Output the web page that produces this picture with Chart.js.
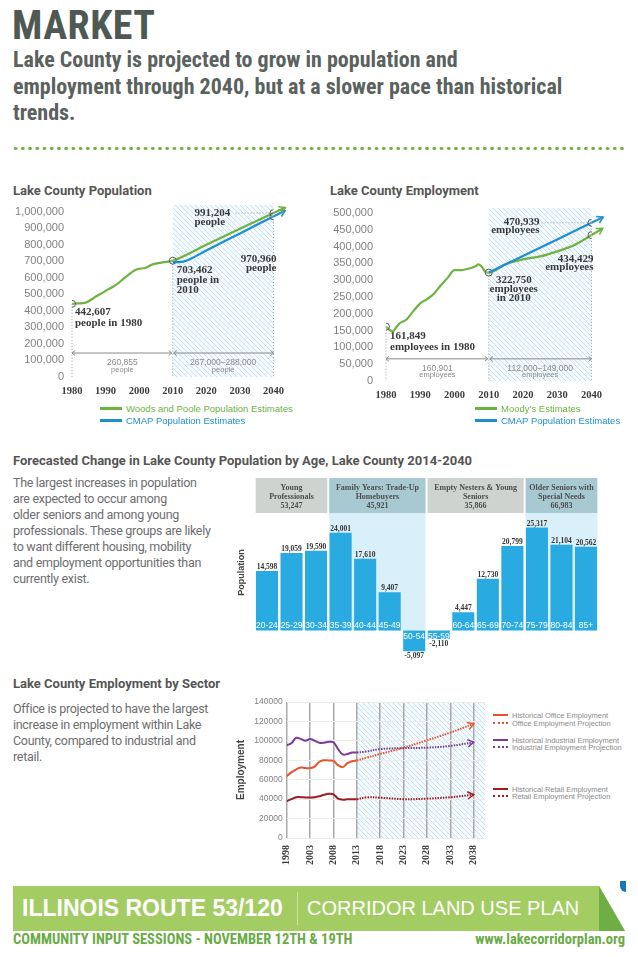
<!DOCTYPE html>
<html>
<head>
<meta charset="utf-8">
<title>Market</title>
<script src="https://cdn.jsdelivr.net/npm/chart.js@4.4.1/dist/chart.umd.min.js"></script>
<style>
  body { margin: 0; background: #fff; }
  #page { position: relative; width: 638px; height: 957px; overflow: hidden; font-family: Roboto, "Liberation Sans", sans-serif; color: #58595b; }
  .abs { position: absolute; white-space: nowrap; }
  .narrow { font-family: "Liberation Sans Narrow", "Roboto Condensed", Roboto, sans-serif; }
  #title { left: 12px; top: 4px; font-size: 40px; font-weight: bold; color: #4f5954; line-height: 44px; letter-spacing: 0.5px; }
  #subtitle { left: 13px; top: 47px; font-size: 22px; font-weight: bold; color: #5a625e; line-height: 26.5px; }
  #dots { left: 12px; top: 146px; width: 614px; height: 5px; background-image: radial-gradient(circle, #6db33f 1.5px, transparent 1.9px); background-size: 7.22px 5px; }
  .h2 { font-size: 13px; font-weight: bold; color: #555; line-height: 16px; }
  .para { font-size: 12.5px; color: #6d6e70; line-height: 16px; letter-spacing: -0.3px; }
  canvas { position: absolute; }
  .lg { font-family: "Liberation Sans", Arial, sans-serif; font-size: 9.5px; line-height: 12px; }
  .sw { display: inline-block; width: 22px; border-top: 3px solid; vertical-align: middle; margin-right: 4px; position: relative; top: -1px; }
  .slg { font-family: "Liberation Sans", Arial, sans-serif; font-size: 7.5px; line-height: 8px; color: #8a8a8a; }
  .ssw { display: inline-block; width: 15px; vertical-align: middle; margin-right: 4px; position: relative; top: -1px; }
  #band { left: 13px; top: 886px; width: 612px; height: 45px; background: #a3cd63; clip-path: polygon(0 0, 586px 0, 612px 45px, 0 45px); }
  #fold { left: 599px; top: 886px; width: 26px; height: 45px; background: #6fae45; clip-path: polygon(0 0, 26px 45px, 0 45px); }
</style>
</head>
<body>
<div id="page">
  <div id="title" class="abs narrow">MARKET</div>
  <div id="subtitle" class="abs narrow">Lake County is projected to grow in population and<br>employment through 2040, but at a slower pace than historical<br>trends.</div>
  <div id="dots" class="abs"></div>

  <div class="abs h2" style="left:13px;top:183px">Lake County Population</div>
  <div class="abs h2" style="left:330px;top:183px">Lake County Employment</div>
  <canvas id="popChart" width="282" height="210" style="left:10px;top:190px"></canvas>
  <canvas id="empChart" width="282" height="216" style="left:328px;top:188px"></canvas>
  <div class="abs lg" style="left:100px;top:403px;color:#6db33f"><span class="sw" style="border-color:#6db33f"></span>Woods and Poole Population Estimates</div>
  <div class="abs lg" style="left:100px;top:415px;color:#1d8fd1"><span class="sw" style="border-color:#1d8fd1"></span>CMAP Population Estimates</div>
  <div class="abs lg" style="left:475px;top:403px;color:#6db33f"><span class="sw" style="border-color:#6db33f"></span>Moody’s Estimates</div>
  <div class="abs lg" style="left:475px;top:415px;color:#1d8fd1"><span class="sw" style="border-color:#1d8fd1"></span>CMAP Population Estimates</div>

  <div class="abs h2" style="left:13px;top:453px">Forecasted Change in Lake County Population by Age, Lake County 2014-2040</div>
  <div class="abs para" style="left:13px;top:475px">The largest increases in population<br>are expected to occur among<br>older seniors and among young<br>professionals. These groups are likely<br>to want different housing, mobility<br>and employment opportunities than<br>currently exist.</div>
  <canvas id="ageChart" width="372" height="191" style="left:230px;top:476px"></canvas>

  <div class="abs h2" style="left:13px;top:676px">Lake County Employment by Sector</div>
  <div class="abs para" style="left:13px;top:701px">Office is projected to have the largest<br>increase in employment within Lake<br>County, compared to industrial and<br>retail.</div>
  <canvas id="sectorChart" width="261" height="188" style="left:232px;top:692px"></canvas>
  <div class="abs slg" style="left:493px;top:712px"><span class="ssw" style="border-top:2px solid #e8532c"></span>Historical Office Employment</div>
  <div class="abs slg" style="left:493px;top:720px"><span class="ssw" style="border-top:2px dotted #e8532c"></span>Office Employment Projection</div>
  <div class="abs slg" style="left:493px;top:737px"><span class="ssw" style="border-top:2px solid #7a3b97"></span>Historical Industrial Employment</div>
  <div class="abs slg" style="left:493px;top:744px"><span class="ssw" style="border-top:2px dotted #7a3b97"></span>Industrial Employment Projection</div>
  <div class="abs slg" style="left:493px;top:786px"><span class="ssw" style="border-top:2px solid #9e1b20"></span>Historical Retail Employment</div>
  <div class="abs slg" style="left:493px;top:793px"><span class="ssw" style="border-top:2px dotted #9e1b20"></span>Retail Employment Projection</div>

  <div id="band" class="abs"></div>
  <div id="fold" class="abs"></div>
  <div class="abs" style="left:620px;top:881px;width:6px;height:11px;background:#1b75bb;border-radius:0 0 0 6px"></div>
  <div class="abs" style="left:22px;top:895px;font-family:'Liberation Sans',Arial,sans-serif;font-size:23px;font-weight:bold;color:#fff">ILLINOIS ROUTE 53/120</div>
  <div class="abs" style="left:297px;top:892px;width:1px;height:33px;background:#c9e3a6"></div>
  <div class="abs" style="left:307px;top:897px;font-family:'Liberation Sans',Arial,sans-serif;font-size:20px;color:#fff">CORRIDOR LAND USE PLAN</div>
  <div class="abs narrow" style="left:13px;top:931px;font-size:14.5px;font-weight:bold;color:#6aab46">COMMUNITY INPUT SESSIONS - NOVEMBER 12TH &amp; 19TH</div>
  <div class="abs narrow" style="right:13px;top:931px;font-size:14.5px;font-weight:bold;color:#6aab46">www.lakecorridorplan.org</div>
</div>

<script>
// start: Data
const popHistYears = [1980, 1982, 1984, 1987, 1990, 1993, 1996, 1999, 2002, 2004, 2007, 2010];
const popHistValues = [442607, 445000, 449000, 485000, 521000, 555000, 605000, 649000, 661000, 681000, 693000, 703462];
const popProjYears = [2010, 2020, 2030, 2040];
const popWoodsProj = [703462, 800000, 896000, 991204];
const popCmapYears = [2010, 2012, 2014, 2020, 2030, 2040];
const popCmapProj = [694000, 695000, 703000, 765000, 868000, 970960];
const popTicks = [0, 100000, 200000, 300000, 400000, 500000, 600000, 700000, 800000, 900000, 1000000];

const empHistYears = [1980, 1981, 1982, 1983, 1984, 1986, 1988, 1990, 1992, 1994, 1996, 1998, 2000, 2002, 2004, 2006, 2007, 2008, 2009, 2010];
const empHistValues = [161849, 152000, 148000, 160000, 172000, 183000, 208000, 231000, 244000, 260000, 285000, 307000, 330000, 330000, 334000, 341000, 347000, 340000, 325000, 322750];
const empProjYears = [2010, 2015, 2020, 2025, 2030, 2035, 2040];
const empMoodysProj = [322750, 348000, 362000, 371000, 386000, 405000, 434429];
const empCmapYears = [2010, 2020, 2030, 2040];
const empCmapProj = [322750, 372000, 421500, 470939];
const empTicks = [0, 50000, 100000, 150000, 200000, 250000, 300000, 350000, 400000, 450000, 500000];

const ageCats = ["20-24", "25-29", "30-34", "35-39", "40-44", "45-49", "50-54", "55-59", "60-64", "65-69", "70-74", "75-79", "80-84", "85+"];
const ageChange = [14598, 19059, 19590, 24001, 17610, 9407, -5097, -2110, 4447, 12730, 20799, 25317, 21104, 20562];
const groupNames = [["Young", "Professionals"], ["Family Years: Trade-Up", "Homebuyers"], ["Empty Nesters & Young", "Seniors"], ["Older Seniors with", "Special Needs"]];
const groupTotals = [53247, 45921, 35866, 66983];
const groupSizes = [3, 4, 4, 3];

const sectorTickYears = [1998, 2003, 2008, 2013, 2018, 2023, 2028, 2033, 2038];
const sectorHistYears = [1998, 1999, 2000, 2001, 2002, 2003, 2004, 2005, 2006, 2007, 2008, 2009, 2010, 2011, 2012, 2013];
const officeHist = [63500, 67500, 70500, 72500, 72000, 72000, 73500, 78500, 80000, 79800, 79500, 75000, 73000, 77000, 79000, 79800];
const industrialHist = [95500, 97500, 103000, 102000, 100000, 102000, 100000, 98000, 98000, 99000, 98500, 91500, 86000, 86500, 88000, 88000];
const retailHist = [38000, 40000, 42000, 42000, 41800, 41800, 42000, 43000, 44500, 45500, 45000, 40500, 39500, 40000, 39800, 39800];
const sectorProjYears = [2013, 2015, 2018, 2023, 2028, 2033, 2038];
const officeProj = [79800, 82500, 86500, 93000, 100500, 108500, 117500];
const industrialProj = [88000, 89000, 91500, 92500, 93000, 94800, 98500];
const retailProj = [39800, 41800, 41500, 40000, 40500, 42000, 44500];
// end: Data

const GREEN = "#6db33f";
const BLUE = "#1d8fd1";
const SERIF = '"Liberation Serif", "DejaVu Serif", serif';
const SANS = '"Liberation Sans", Arial, sans-serif';

function points(xs, ys) {
  return xs.map(function (x, i) { return { x: x, y: ys[i] }; });
}

function hatchFill(ctx) {
  const tile = document.createElement("canvas");
  tile.width = 5;
  tile.height = 5;
  const t = tile.getContext("2d");
  t.fillStyle = "#f4fafd";
  t.fillRect(0, 0, 5, 5);
  t.strokeStyle = "#c6e2ef";
  t.lineWidth = 1;
  t.beginPath();
  t.moveTo(-1, -1); t.lineTo(6, 6);
  t.moveTo(-1, 4); t.lineTo(1, 6);
  t.moveTo(4, -1); t.lineTo(6, 1);
  t.stroke();
  return ctx.createPattern(tile, "repeat");
}

function textLines(ctx, lines, x, y, lh, font, color, align) {
  ctx.save();
  ctx.font = font;
  ctx.fillStyle = color;
  ctx.textAlign = align || "left";
  ctx.textBaseline = "alphabetic";
  lines.forEach(function (s, i) { ctx.fillText(s, x, y + i * lh); });
  ctx.restore();
}

function dimLine(ctx, x1, x2, y) {
  ctx.save();
  ctx.strokeStyle = "#8a8a8a";
  ctx.lineWidth = 1;
  ctx.beginPath();
  ctx.moveTo(x1, y); ctx.lineTo(x2, y);
  ctx.moveTo(x1 + 3, y - 2.5); ctx.lineTo(x1, y); ctx.lineTo(x1 + 3, y + 2.5);
  ctx.moveTo(x2 - 3, y - 2.5); ctx.lineTo(x2, y); ctx.lineTo(x2 - 3, y + 2.5);
  ctx.stroke();
  ctx.restore();
}

// start: Arrows
Chart.register({
  id: "arrows",
  afterDatasetsDraw: function (chart) {
    const ctx = chart.ctx;
    chart.data.datasets.forEach(function (ds, i) {
      if (ds.arrow === undefined) return;
      const pts = chart.getDatasetMeta(i).data;
      const a = pts[pts.length - 2], b = pts[pts.length - 1];
      const ang = Math.atan2(b.y - a.y, b.x - a.x);
      const ex = b.x + Math.cos(ang) * ds.arrow, ey = b.y + Math.sin(ang) * ds.arrow;
      ctx.save();
      ctx.strokeStyle = ds.borderColor;
      ctx.lineWidth = ds.borderWidth;
      ctx.setLineDash(ds.borderDash || []);
      ctx.beginPath(); ctx.moveTo(b.x, b.y); ctx.lineTo(ex, ey); ctx.stroke();
      ctx.setLineDash([]);
      ctx.lineWidth = 1.5;
      ctx.beginPath();
      ctx.moveTo(ex - Math.cos(ang - 0.55) * 7, ey - Math.sin(ang - 0.55) * 7);
      ctx.lineTo(ex, ey);
      ctx.lineTo(ex - Math.cos(ang + 0.55) * 7, ey - Math.sin(ang + 0.55) * 7);
      ctx.stroke();
      ctx.restore();
    });
  }
});
// end: Arrows

// start: Growth charts
function growthPlugin(o) {
  return {
    id: "growth",
    beforeDraw: function (chart) {
      const ctx = chart.ctx, a = chart.chartArea, x = chart.scales.x;
      const x0 = x.getPixelForValue(o.splitYear), x1 = x.getPixelForValue(o.endYear);
      ctx.save();
      ctx.fillStyle = hatchFill(ctx);
      ctx.fillRect(x0, a.top, x1 - x0, a.bottom - a.top);
      ctx.restore();
    },
    beforeDatasetsDraw: function (chart) {
      const ctx = chart.ctx, a = chart.chartArea, x = chart.scales.x, y = chart.scales.y;
      ctx.save();
      ctx.strokeStyle = "#a0a0a0";
      ctx.lineWidth = 1;
      ctx.setLineDash([1, 2]);
      o.marks.forEach(function (m) {
        const px = x.getPixelForValue(m[0]);
        ctx.beginPath(); ctx.moveTo(px, y.getPixelForValue(m[1])); ctx.lineTo(px, a.bottom); ctx.stroke();
      });
      const lx = x.getPixelForValue(o.leader[0]), ly = y.getPixelForValue(o.leader[1]);
      ctx.beginPath(); ctx.moveTo(lx + o.leader[2], ly); ctx.lineTo(lx - 4, ly); ctx.stroke();
      ctx.restore();
      const dy = y.getPixelForValue(o.dimValue);
      const xs = o.dimYears.map(function (v) { return x.getPixelForValue(v); });
      dimLine(ctx, xs[0], xs[1] - 1, dy);
      dimLine(ctx, xs[1] + 1, xs[2], dy);
      o.dimTexts.forEach(function (t, i) {
        const cx = (xs[i] + xs[i + 1]) / 2;
        textLines(ctx, [t[0]], cx, dy + 12, 0, "8.5px " + SANS, "#8a8a8a", "center");
        textLines(ctx, [t[1]], cx, dy + 18.5, 0, "7.5px " + SANS, "#8a8a8a", "center");
      });
    },
    afterDatasetsDraw: function (chart) {
      const ctx = chart.ctx, x = chart.scales.x, y = chart.scales.y;
      o.notes.forEach(function (n) {
        textLines(ctx, n.lines, x.getPixelForValue(n.year) + n.dx, y.getPixelForValue(n.value) + n.dy,
          n.lh, "bold 11px " + SERIF, "#3a3a3a", n.align);
      });
    }
  };
}

function growthOptions(yMax, yTicks, yWidth, yPad, padTop) {
  return {
    responsive: false,
    animation: false,
    events: [],
    layout: { padding: { top: padTop, right: 18, left: 0, bottom: 0 } },
    plugins: { legend: { display: false }, tooltip: { enabled: false } },
    elements: { line: { cubicInterpolationMode: "monotone" } },
    scales: {
      x: {
        type: "linear", min: 1980, max: 2040,
        grid: { display: false, drawTicks: false }, border: { display: false },
        ticks: { stepSize: 10, padding: 8, color: "#3d3d3d", font: { family: SERIF, weight: "bold", size: 10.5 }, callback: function (v) { return String(v); } },
        afterFit: function (s) { s.height = 23; }
      },
      y: {
        min: 0, max: yMax,
        grid: { display: false, drawTicks: false }, border: { display: false },
        ticks: { padding: yPad, color: "#808285", font: { family: SANS, size: 11 }, callback: function (v) { return v.toLocaleString("en-US"); } },
        afterBuildTicks: function (s) { s.ticks = yTicks.map(function (v) { return { value: v }; }); },
        afterFit: function (s) { s.width = yWidth; }
      }
    }
  };
}

function lineSet(label, data, color, marks) {
  return {
    label: label, data: data, borderColor: color, borderWidth: 2.2, arrow: 13,
    pointRadius: data.map(function (p) { return marks.indexOf(p.x) >= 0 ? 3.5 : 0; }),
    pointBorderColor: "#5a5a5a", pointBorderWidth: 1, pointBackgroundColor: "rgba(255,255,255,0.15)"
  };
}

const woodsPoints = points(popHistYears, popHistValues).concat(points(popProjYears, popWoodsProj).slice(1));
const popCmapPoints = points(popCmapYears, popCmapProj);
new Chart(document.getElementById("popChart"), {
  type: "line",
  data: {
    datasets: [
      lineSet("CMAP Population Estimates", popCmapPoints, BLUE, [2040]),
      lineSet("Woods and Poole Population Estimates", woodsPoints, GREEN, [1980, 2010, 2040])
    ]
  },
  options: growthOptions(1040000, popTicks, 62, 8, 15),
  plugins: [growthPlugin({
    splitYear: 2010, endYear: 2040,
    marks: [[popHistYears[0], popHistValues[0]], [2010, popWoodsProj[0]], [2040, popWoodsProj[3]]],
    leader: [2040, popWoodsProj[3], -38],
    dimValue: 145000, dimYears: [1980, 2010, 2040],
    dimTexts: [["260,855", "people"], ["267,000–288,000", "people"]],
    notes: [
      { year: 1980, value: popHistValues[0], dx: 3, dy: 11, lh: 11, lines: ["442,607", "people in 1980"] },
      { year: 2010, value: popWoodsProj[0], dx: 4, dy: 12, lh: 10, lines: ["703,462", "people in", "2010"] },
      { year: 2040, value: popWoodsProj[3], dx: -79, dy: 3, lh: 9, lines: ["991,204", "people"] },
      { year: 2040, value: popCmapProj[5], dx: 3, dy: 46, lh: 8.5, lines: ["970,960", "people"], align: "right" }
    ]
  })]
});

const moodysPoints = points(empHistYears, empHistValues).concat(points(empProjYears, empMoodysProj).slice(1));
const empCmapPoints = points(empCmapYears, empCmapProj);
new Chart(document.getElementById("empChart"), {
  type: "line",
  data: {
    datasets: [
      lineSet("CMAP Population Estimates", empCmapPoints, BLUE, [2040]),
      lineSet("Moody’s Estimates", moodysPoints, GREEN, [1980, 2010, 2040])
    ]
  },
  options: growthOptions(515000, empTicks, 58, 13, 20),
  plugins: [growthPlugin({
    splitYear: 2010, endYear: 2040,
    marks: [[empHistYears[0], empHistValues[0]], [2010, empMoodysProj[0]], [2040, empCmapProj[3]]],
    leader: [2040, empCmapProj[3], -50],
    dimValue: 66000, dimYears: [1980, 2010, 2040],
    dimTexts: [["160,901", "employees"], ["112,000–149,000", "employees"]],
    notes: [
      { year: 1980, value: empHistValues[0], dx: 4, dy: 12, lh: 11, lines: ["161,849", "employees in 1980"] },
      { year: 2010, value: empMoodysProj[0], dx: 25, dy: 10, lh: 9, lines: ["322,750", "employees", "in 2010"], align: "center" },
      { year: 2040, value: empCmapProj[3], dx: -52, dy: 2, lh: 8.5, lines: ["470,939", "employees"], align: "right" },
      { year: 2040, value: empMoodysProj[6], dx: 2, dy: 27, lh: 8, lines: ["434,429", "employees"], align: "right" }
    ]
  })]
});
// end: Growth charts

// start: Age chart
new Chart(document.getElementById("ageChart"), {
  type: "bar",
  data: {
    labels: ageCats,
    datasets: [{ label: "Population", data: ageChange, backgroundColor: "#29abe2", barPercentage: 0.9, categoryPercentage: 1 }]
  },
  options: {
    responsive: false,
    animation: false,
    events: [],
    layout: { padding: { top: 2, right: 3.7, left: 0, bottom: 0 } },
    plugins: { legend: { display: false }, tooltip: { enabled: false } },
    scales: {
      x: { display: false },
      y: {
        min: -9000, max: 37500,
        grid: { display: false, drawTicks: false }, border: { display: false },
        ticks: { display: false },
        title: { display: true, text: "Population", color: "#444", padding: { top: 6, bottom: 0 }, font: { family: SANS, weight: "bold", size: 9 } },
        afterFit: function (s) { s.width = 24.7; }
      }
    }
  },
  plugins: [{
    id: "ageGroups",
    beforeDraw: function (chart) {
      const ctx = chart.ctx, a = chart.chartArea, x = chart.scales.x, y = chart.scales.y;
      const step = a.width / ageCats.length, base = y.getPixelForValue(0);
      let idx = 0;
      ctx.save();
      groupSizes.forEach(function (n, g) {
        const left = x.getPixelForValue(idx) - step / 2 + 1;
        const right = x.getPixelForValue(idx + n - 1) + step / 2 - 1;
        if (g % 2 === 1) {
          ctx.fillStyle = "#d9eff9";
          ctx.fillRect(left, a.top, right - left, base - a.top);
        }
        ctx.fillStyle = g % 2 === 1 ? "#a8c9d2" : "#cdd3cf";
        ctx.fillRect(left, a.top, right - left, 35);
        textLines(ctx, groupNames[g].concat([groupTotals[g].toLocaleString("en-US")]), (left + right) / 2, a.top + 11.5, 9,
          "bold 8px " + SERIF, "#4d4d4d", "center");
        idx += n;
      });
      ctx.restore();
    },
    afterDatasetsDraw: function (chart) {
      const ctx = chart.ctx;
      chart.getDatasetMeta(0).data.forEach(function (bar, i) {
        const v = ageChange[i];
        const up = v >= 0;
        textLines(ctx, [v.toLocaleString("en-US")], bar.x, up ? bar.y - 2 : bar.y + 7, 0, "bold 7.5px " + SERIF, "#333", "center");
        textLines(ctx, [ageCats[i]], bar.x, up ? bar.base - 2 : bar.base + 9, 0, "8.5px " + SANS, "#ffffff", "center");
      });
    }
  }]
});
// end: Age chart

// start: Sector chart
function sectorSet(label, xs, ys, color, dotted) {
  const ds = { label: label, data: points(xs, ys), borderColor: color, borderWidth: 2, pointRadius: 0, tension: 0.4 };
  if (dotted) {
    ds.borderDash = [1.5, 1.2];
    ds.arrow = 0;
  }
  return ds;
}

new Chart(document.getElementById("sectorChart"), {
  type: "line",
  data: {
    datasets: [
      sectorSet("Historical Office Employment", sectorHistYears, officeHist, "#e8532c", false),
      sectorSet("Office Employment Projection", sectorProjYears, officeProj, "#e8532c", true),
      sectorSet("Historical Industrial Employment", sectorHistYears, industrialHist, "#7a3b97", false),
      sectorSet("Industrial Employment Projection", sectorProjYears, industrialProj, "#7a3b97", true),
      sectorSet("Historical Retail Employment", sectorHistYears, retailHist, "#9e1b20", false),
      sectorSet("Retail Employment Projection", sectorProjYears, retailProj, "#9e1b20", true)
    ]
  },
  options: {
    responsive: false,
    animation: false,
    events: [],
    layout: { padding: { top: 10, right: 5.9, left: 0, bottom: 0 } },
    plugins: { legend: { display: false }, tooltip: { enabled: false } },
    scales: {
      x: {
        type: "linear", min: 1998, max: 2040.5,
        grid: { color: "#a9a9a9", lineWidth: 1.5, drawTicks: false }, border: { display: false },
        ticks: { padding: 7, minRotation: 90, maxRotation: 90, color: "#3d3d3d", font: { family: SERIF, weight: "bold", size: 10 }, callback: function (v) { return String(v); } },
        afterBuildTicks: function (s) { s.ticks = sectorTickYears.map(function (v) { return { value: v }; }); },
        afterFit: function (s) { s.height = 42; }
      },
      y: {
        min: 0, max: 140000,
        grid: { color: "#ececec", drawTicks: false }, border: { display: false },
        ticks: { stepSize: 20000, padding: 4, color: "#808285", font: { family: SANS, size: 8.5 }, callback: function (v) { return String(v); } },
        title: { display: true, text: "Employment", color: "#444", padding: { top: 3, bottom: 0 }, font: { family: SANS, weight: "bold", size: 10 } },
        afterFit: function (s) { s.width = 54.7; }
      }
    }
  },
  plugins: [{
    id: "sectorHatch",
    beforeDraw: function (chart) {
      const ctx = chart.ctx, a = chart.chartArea, x = chart.scales.x;
      const x0 = x.getPixelForValue(sectorProjYears[0]);
      ctx.save();
      ctx.fillStyle = hatchFill(ctx);
      ctx.fillRect(x0, a.top, a.right - x0, a.bottom - a.top);
      ctx.restore();
    }
  }]
});
// end: Sector chart
</script>
</body>
</html>
